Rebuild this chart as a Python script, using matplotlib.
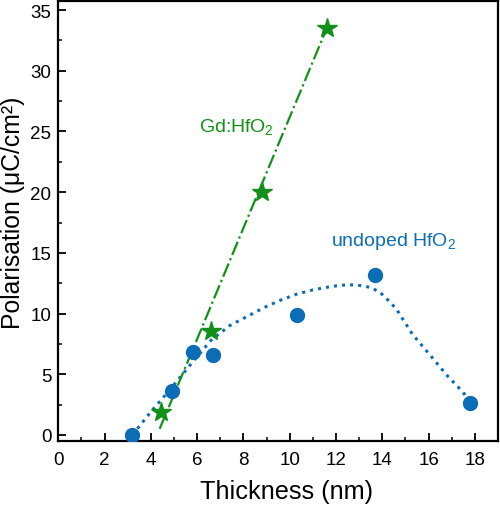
import matplotlib
matplotlib.use("Agg")
import matplotlib.pyplot as plt
from matplotlib.ticker import MultipleLocator

plt.rcParams['font.family'] = ['Liberation Sans', 'DejaVu Sans']
plt.rcParams['mathtext.fontset'] = 'custom'
plt.rcParams['mathtext.rm'] = 'Liberation Sans'

# undoped HfO2 data
undoped_x = [3.2, 4.9, 5.8, 6.7, 10.3, 13.7, 17.8]
undoped_y = [0.0, 3.6, 6.8, 6.6, 9.9, 13.2, 2.6]
# guide curve
undoped_fit_x = [3.2, 4.0, 4.9, 5.8, 6.6, 7.4, 8.2, 8.9, 9.6, 10.3, 11.0, 11.7, 12.2, 12.6, 13.1, 13.5, 13.9, 14.2, 14.6, 15.3, 16.1, 16.8, 17.5, 17.8]
undoped_fit_y = [0.0, 1.9, 3.9, 6.0, 7.8, 9.0, 9.8, 10.5, 11.1, 11.6, 11.95, 12.2, 12.33, 12.37, 12.3, 12.15, 11.75, 11.2, 10.4, 8.3, 6.5, 4.9, 3.5, 2.6]

# Gd:HfO2 data
gd_x = [4.45, 6.6, 8.8, 11.6]
gd_y = [1.9, 8.6, 20.0, 33.5]
gd_fit_x = [4.38, 11.6]
gd_fit_y = [0.5, 33.5]

xticks = [0, 2, 4, 6, 8, 10, 12, 14, 16, 18]
yticks = [0, 5, 10, 15, 20, 25, 30, 35]

blue = '#0b6db5'
green = '#13901a'

fig = plt.figure(figsize=(5.0, 5.06), dpi=100)
ax = fig.add_axes([0.1166, 0.1265, 0.8794, 0.8695])

ax.plot(undoped_fit_x, undoped_fit_y, linestyle=':', color=blue, lw=2.2)
ax.plot(gd_fit_x, gd_fit_y, linestyle='-.', color=green, lw=1.6)
ax.plot(undoped_x, undoped_y, 'o', color=blue, ms=10, mec=blue, zorder=3)
ax.plot(gd_x, gd_y, '*', color=green, ms=15, mec=green, zorder=3)

ax.text(7.7, 25.4, 'Gd:HfO$_2$', color=green, fontsize=14, ha='center', va='center')
ax.text(14.5, 16.0, 'undoped HfO$_2$', color=blue, fontsize=14, ha='center', va='center')

ax.set_xlim(0, 19)
ax.set_ylim(-0.5, 35.75)
ax.set_xticks(xticks)
ax.set_yticks(yticks)
ax.xaxis.set_minor_locator(MultipleLocator(1))
ax.yaxis.set_minor_locator(MultipleLocator(2.5))
ax.tick_params(which='major', direction='in', length=5.5, width=1.3, labelsize=13.5)
ax.tick_params(axis='x', which='major', pad=7)
ax.tick_params(axis='y', which='major', pad=5)
ax.tick_params(which='minor', direction='in', length=3, width=1.1)
for s in ax.spines.values():
    s.set_linewidth(1.6)

ax.set_xlabel('Thickness (nm)', fontsize=18.2, labelpad=8)
ax.set_ylabel('Polarisation (μC/cm²)', fontsize=17.8, labelpad=4)
ax.xaxis.label.set_x(0.52)
ax.yaxis.label.set_y(0.52)

fig.savefig('out.png', dpi=100)
